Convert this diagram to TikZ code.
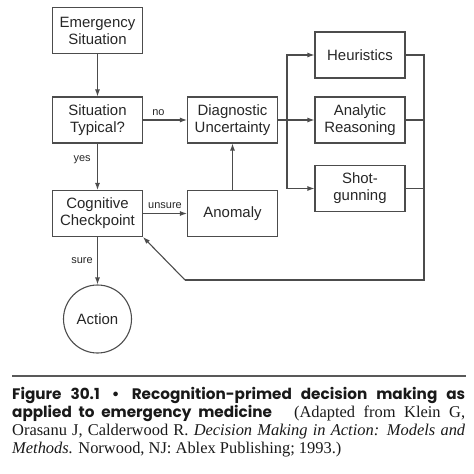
\documentclass[tikz,border=0pt]{standalone}
\usepackage{fontspec}
\setmainfont{Liberation Sans}
\newfontfamily\capsans{Poppins}
\newfontfamily\capserif{Liberation Serif}
\usetikzlibrary{arrows.meta}

\begin{document}
\begin{tikzpicture}[x=1bp, y=-1bp,
    box/.style={draw=black!70, line width=1.1bp, minimum width=90bp, minimum height=46bp,
        inner sep=1bp, align=center, font=\fontsize{15}{17}\selectfont, text=black!85},
    lbl/.style={font=\fontsize{11}{12}\selectfont, text=black!85},
    wire/.style={draw=black!70, line width=1.1bp},
    flow/.style={wire, -{Latex[length=7bp, width=5bp]}},
    capline/.style={anchor=base west, inner sep=0pt, text=black!90}]

        \useasboundingbox (0,0) rectangle (474,474);

        % left column
        \node[box] (emerg) at (97.5,30.5) {Emergency\\Situation};
        \node[box] (typical) at (97.5,120) {Situation\\Typical?};
        \node[box] (check) at (97.5,213.5) {Cognitive\\Checkpoint};
        \node[box, circle, minimum size=68bp] (action) at (97.5,319) {Action};

        % middle column
        \node[box] (diag) at (232.5,120) {Diagnostic\\Uncertainty};
        \node[box] (anomaly) at (232.5,213.5) {Anomaly};

        % strategies
        \node[box] (heur) at (360,55) {Heuristics};
        \node[box] (analytic) at (360,120) {Analytic\\Reasoning};
        \node[box] (shot) at (360,188.5) {Shot-\\gunning};

        \draw[flow] (emerg) -- (typical);
        \draw[flow] (typical) -- (check) node[lbl, pos=0.35, left=3bp] {yes};
        \draw[flow] (typical) -- (diag) node[lbl, pos=0.35, above=1bp] {no};
        \draw[flow] (check) -- (anomaly) node[lbl, pos=0.5, above=1bp] {unsure};
        \draw[flow] (anomaly) -- (diag);
        \draw[flow] (check) -- (action) node[lbl, pos=0.5, left=1bp] {sure};

        \coordinate (split) at (287,120);
        \draw[wire] (diag.east) -- (split);
        \draw[flow] (split) |- (heur.west);
        \draw[flow] (split) -- (analytic.west);
        \draw[flow] (split) |- (shot.west);

        % back to the checkpoint
        \coordinate (rtop) at (424,55);
        \coordinate (rbot) at (424,280);
        \coordinate (bend) at (185,280);
        \draw[wire] (heur.east) -- (rtop) -- (rbot) -- (bend);
        \draw[wire] (analytic.east) -- (analytic.east -| rtop);
        \draw[wire] (shot.east) -- (shot.east -| rtop);
        \draw[flow] (bend) -- (check.south east);

        \draw[black!65, line width=1.6bp] (12,376) -- (466,376);

        \def\bulgap{\hskip 0.8em}
        \node[capline] (cap1) at (12,399) {\makebox[453bp][s]{\capsans\bfseries\fontsize{15.3}{18}\selectfont
            Figure 30.1\bulgap\textbullet\bulgap Recognition-primed decision making as}};
        \node[capline] (cap2) at (12,417) {\makebox[453bp][s]{{\capsans\bfseries\fontsize{15.3}{18}\selectfont
            applied to emergency medicine}\hspace{22bp}{\capserif\fontsize{16.5}{18}\selectfont (Adapted from Klein G,}}};
        \node[capline] (cap3) at (12,435) {\makebox[453bp][s]{\capserif\fontsize{16.5}{18}\selectfont
            Orasanu J, Calderwood R. \textit{Decision Making in Action: Models and}}};
        \node[capline] (cap4) at (12,453) {\capserif\fontsize{16.5}{18}\selectfont
            \textit{Methods.} Norwood, NJ: Ablex Publishing; 1993.)};

\end{tikzpicture}
\end{document}
